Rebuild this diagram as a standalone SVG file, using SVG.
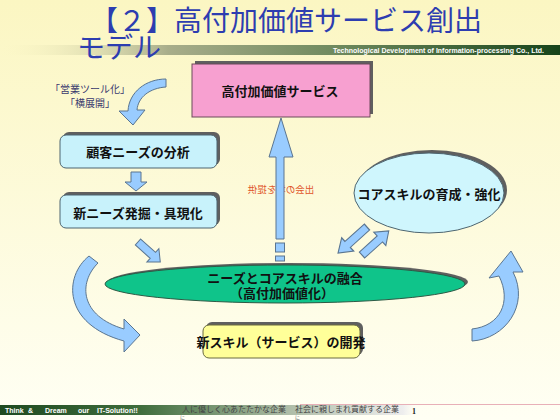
<svg xmlns="http://www.w3.org/2000/svg" width="560" height="420" viewBox="0 0 560 420">
<defs>
<linearGradient id="bg" x1="0" y1="0" x2="0" y2="1">
<stop offset="0" stop-color="#fbf6c2"/>
<stop offset="1" stop-color="#fffff4"/>
</linearGradient>
<linearGradient id="band" x1="0" y1="0" x2="1" y2="0">
<stop offset="0" stop-color="#fbf6c2" stop-opacity="0"/>
<stop offset="0.3" stop-color="#a8ad8a"/>
<stop offset="0.6" stop-color="#6f8a5e"/>
<stop offset="1" stop-color="#17441a"/>
</linearGradient>
<linearGradient id="foot" x1="0" y1="0" x2="1" y2="0">
<stop offset="0" stop-color="#1e4a20"/>
<stop offset="0.25" stop-color="#3f6d3c"/>
<stop offset="0.5" stop-color="#a9b9a2"/>
<stop offset="0.72" stop-color="#eeeeee"/>
<stop offset="0.75" stop-color="#fffff4" stop-opacity="0"/>
</linearGradient>
<path id="sarrow" d="M0,-4 L20,-4 L20,-9 L30,0 L20,9 L20,4 L0,4 Z"/>
<style>
.jp{font-family:"Noto Sans CJK JP","Noto Sans",sans-serif;}
.lbl{font-size:13px;font-weight:bold;fill:#111;text-anchor:middle;}
.arw{fill:#99ccff;stroke:#5a7590;stroke-width:1;}
.shd{fill:#5f5f5f;}
.title{font-family:"Noto Sans CJK JP",sans-serif;font-size:28px;fill:#2d3db0;}
</style>
</defs>
<rect width="560" height="420" fill="url(#bg)"/>

<g id="header">
<rect x="0" y="45" width="560" height="10" fill="url(#band)"/>
<text x="544" y="53" font-family="'Liberation Sans',sans-serif" font-size="7" font-weight="bold" fill="#ffffff" text-anchor="end">Technological Development of Information-processing Co., Ltd.</text>
<text class="title" x="90" y="31">【２】高付加価値サービス創出</text>
<text class="title" x="77" y="58">モデル</text>
</g>

<g id="mirror-label">
<text class="jp" x="0" y="0" font-size="9.5" fill="#e0552a" text-anchor="middle" transform="translate(281,193) scale(-1,1)">出会の場を提供</text>
</g>

<g id="connectors">
<path class="arw" d="M281,118 L293,157 L284,157 L284,239 L276,239 L276,157 L269,157 Z"/>
<rect class="arw" x="275.5" y="243" width="9" height="9"/>
<rect class="arw" x="275.5" y="256" width="9" height="5"/>
<path class="arw" d="M166,79 C146,79 129,92 128,111 L119,111 L133,125 L145,110 L137,110 C138,97 150,88 166,87 Z"/>
<path class="arw" d="M131,172 L141,172 L141,182 L147,182 L136,191 L125,182 L131,182 Z"/>
<use href="#sarrow" class="arw" transform="translate(138,242) rotate(42)"/>
<use href="#sarrow" class="arw" transform="translate(367,227) rotate(138) scale(1.3,1)"/>
<use href="#sarrow" class="arw" transform="translate(362,255) rotate(-42) scale(1.2,1)"/>
<path class="arw" d="M89,256 C64,276 62,324 124,341 L124,352 L140,335 L124,319 L124,329 C80,316 78,283 98,263 Z"/>
<path class="arw" d="M472,329 C500,326 512,302 499,276 L489,278 L511,251 L523,272 L513,272 C530,305 505,339 472,341 Z"/>
</g>

<g id="notes">
<text class="jp" x="90" y="93" font-size="10" fill="#3a3a6e" text-anchor="middle">「営業ツール化」</text>
<text class="jp" x="90" y="107" font-size="10" fill="#3a3a6e" text-anchor="middle">「横展開」</text>
</g>

<g id="node-service">
<rect class="shd" x="195" y="61" width="178" height="53"/>
<rect x="192" y="64" width="178" height="53" fill="#f7a0d0" stroke="#6a4a5a" stroke-width="1"/>
<text class="jp lbl" x="280" y="96" font-weight="normal">高付加価値サービス</text>
</g>

<g id="node-analysis">
<rect class="shd" x="63" y="132" width="157" height="33" rx="6"/>
<rect x="60" y="135" width="157" height="33" rx="6" fill="#c8f2fb" stroke="#4d6570" stroke-width="1"/>
<text class="jp lbl" x="138" y="157">顧客ニーズの分析</text>
</g>

<g id="node-needs">
<rect class="shd" x="63" y="192" width="157" height="33" rx="6"/>
<rect x="60" y="195" width="157" height="33" rx="6" fill="#c8f2fb" stroke="#4d6570" stroke-width="1"/>
<text class="jp lbl" x="138" y="218">新ニーズ発掘・具現化</text>
</g>

<g id="node-core">
<ellipse class="shd" cx="432" cy="190" rx="75" ry="40"/>
<ellipse cx="429" cy="193" rx="75" ry="40" fill="#cff6fd" stroke="#4d6570" stroke-width="1"/>
<text class="jp lbl" x="429" y="199" font-weight="normal">コアスキルの育成・強化</text>
</g>

<g id="node-fusion">
<ellipse class="shd" cx="288" cy="282" rx="180" ry="19"/>
<ellipse cx="285" cy="284" rx="180" ry="19" fill="#0fc48a" stroke="#2d5a45" stroke-width="1"/>
<text class="jp lbl" x="285" y="283">ニーズとコアスキルの融合</text>
<text class="jp lbl" x="282" y="298">（高付加価値化）</text>
</g>

<g id="node-newskill">
<rect class="shd" x="206" y="322" width="157" height="33" rx="6"/>
<rect x="203" y="325" width="157" height="33" rx="6" fill="#ffff99" stroke="#6a6a40" stroke-width="1"/>
<text class="jp lbl" x="281" y="347">新スキル（サービス）の開発</text>
</g>

<g id="footer">
<line x1="300" y1="404.5" x2="560" y2="404.5" stroke="#e8b0b8" stroke-width="1"/>
<rect x="0" y="405" width="560" height="10" fill="url(#foot)"/>
<g font-family="'Liberation Sans',sans-serif" font-size="7" font-weight="bold" fill="#ffffff">
<text x="5" y="412.5">Think</text>
<text x="28" y="412.5">&amp;</text>
<text x="45" y="412.5">Dream</text>
<text x="78" y="412.5">our</text>
<text x="97" y="412.5">IT-Solution!!</text>
</g>
<text class="jp" x="182" y="412" font-size="8" fill="#444">人に優しく心あたたかな企業</text>
<text class="jp" x="295" y="412" font-size="8" fill="#444">社会に親しまれ貢献する企業</text>
<text class="jp" x="180" y="419" font-size="5" fill="#666">に</text>
<text class="jp" x="295" y="419" font-size="5" fill="#666">に</text>
<text x="412" y="414" font-family="'Liberation Serif',serif" font-size="8" font-weight="bold" fill="#222">1</text>
</g>
</svg>
